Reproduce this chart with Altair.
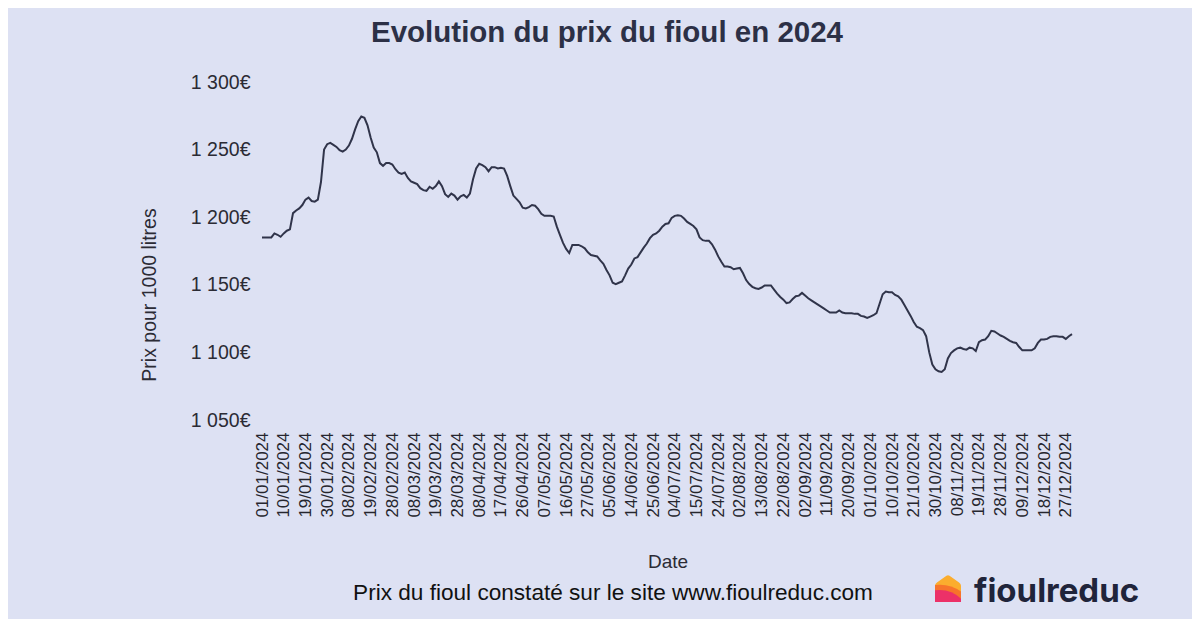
import altair as alt
import pandas as pd

# ---- data ----
PRICES_JAN = [1185, 1185, 1185, 1185, 1188, 1187, 1185.5, 1188, 1190, 1191, 1203, 1205,
              1206.5, 1209, 1213, 1214.5, 1212, 1211.5, 1213, 1226, 1250, 1254, 1255]
PRICES_FEB = [1253.5, 1252, 1249.5, 1248.5, 1250, 1253, 1258, 1265, 1271, 1274.5, 1273.5,
              1268, 1259, 1251.5, 1248, 1240, 1238, 1240, 1240, 1239, 1235.5]
PRICES_MAR = [1233, 1232, 1233, 1229, 1226.5, 1225.5, 1224.5, 1221.5, 1220, 1219.5, 1222.5,
              1221, 1223, 1226.5, 1223, 1217, 1215, 1217.5, 1216, 1213, 1215.5]
PRICES_APR = [1216.5, 1214.5, 1217.5, 1228, 1236, 1239.5, 1238.5, 1237, 1234, 1237, 1237,
              1236, 1236.5, 1236, 1230.5, 1223, 1216, 1213.5, 1211, 1207, 1206.5, 1207.5]
PRICES_MAY = [1209, 1208.5, 1206, 1202.5, 1201, 1201, 1201, 1200.5, 1193, 1187, 1181, 1176.5,
              1173.5, 1179.5, 1179.5, 1179.5, 1178.5, 1177, 1174, 1172, 1171.5, 1171, 1168]
PRICES_JUN = [1165.5, 1161, 1157, 1151.5, 1150.5, 1151.5, 1152.5, 1157, 1162, 1165, 1169.5,
              1170.5, 1174, 1177.5, 1180.5, 1184.5, 1187, 1188, 1190, 1193]
PRICES_JUL = [1195, 1195.5, 1199.5, 1201, 1201.5, 1201, 1199, 1196.5, 1195, 1193.5, 1191, 1185,
              1183, 1182.5, 1182.5, 1180, 1176, 1171, 1167, 1163.5, 1163.5, 1163, 1161.5]
PRICES_AUG = [1162, 1162.5, 1158.5, 1153.5, 1150.5, 1148.5, 1147.5, 1147, 1148, 1149.5, 1149.5,
              1149.5, 1146.5, 1143.5, 1141, 1139, 1136.5, 1137, 1139.5, 1141.5, 1142, 1144]
PRICES_SEP = [1142, 1140, 1138.5, 1137, 1135.5, 1134, 1132.5, 1131, 1129.5, 1129.5, 1129.5,
              1131, 1129.5, 1129, 1129, 1129, 1128.5, 1128.5, 1127, 1126.5, 1125.5]
PRICES_OCT = [1126.5, 1127.5, 1129, 1136, 1143, 1145, 1144.5, 1144.5, 1142.5, 1141.5, 1139,
              1135, 1131, 1127, 1122.5, 1119, 1118, 1116.5, 1112, 1100, 1091, 1087.5, 1086]
PRICES_NOV = [1085.5, 1087.5, 1095.5, 1099.5, 1101.5, 1103, 1103.5, 1102.5, 1102, 1103.5, 1103,
              1101, 1107.5, 1109, 1109.5, 1112, 1116, 1115.5, 1114, 1112.5, 1111.5]
PRICES_DEC = [1110, 1108.5, 1107.5, 1107, 1104, 1101.5, 1101.5, 1101.5, 1101.5, 1103, 1107,
              1109.5, 1109.5, 1110, 1111.5, 1112, 1112, 1111.5, 1111.5, 1110, 1112, 1113.5]

PRICES = (PRICES_JAN + PRICES_FEB + PRICES_MAR + PRICES_APR + PRICES_MAY + PRICES_JUN +
          PRICES_JUL + PRICES_AUG + PRICES_SEP + PRICES_OCT + PRICES_NOV + PRICES_DEC)

# business days of 2024 (categories of the x axis)
DATES = list(pd.bdate_range("2024-01-01", "2024-12-31").strftime("%d/%m/%Y"))

TICK_LABELS = ["01/01/2024", "10/01/2024", "19/01/2024", "30/01/2024", "08/02/2024",
               "19/02/2024", "28/02/2024", "08/03/2024", "19/03/2024", "28/03/2024",
               "08/04/2024", "17/04/2024", "26/04/2024", "07/05/2024", "16/05/2024",
               "27/05/2024", "05/06/2024", "14/06/2024", "25/06/2024", "04/07/2024",
               "15/07/2024", "24/07/2024", "02/08/2024", "13/08/2024", "22/08/2024",
               "02/09/2024", "11/09/2024", "20/09/2024", "01/10/2024", "10/10/2024",
               "21/10/2024", "30/10/2024", "08/11/2024", "19/11/2024", "28/11/2024",
               "09/12/2024", "18/12/2024", "27/12/2024"]
Y_TICKS = [1050, 1100, 1150, 1200, 1250, 1300]

TITLE = "Evolution du prix du fioul en 2024"
Y_TITLE = "Prix pour 1000 litres"
X_TITLE = "Date"
FOOTER = "Prix du fioul constaté sur le site www.fioulreduc.com"
BRAND = "fioulreduc"

assert len(PRICES) == len(DATES)

df = pd.DataFrame({"date": DATES, "prix": PRICES})

BG = "#dde1f3"
INK = "#2c3046"
FONT = "Liberation Sans"

W, H = 810, 338

line = alt.Chart(df).mark_line(color="#30344a", strokeWidth=2).encode(
    x=alt.X("date:O", sort=DATES,
            scale=alt.Scale(type="point", padding=0),
            axis=alt.Axis(values=TICK_LABELS, labelAngle=270, labelPadding=12,
                          domain=False, ticks=False, grid=False, title=None,
                          labelFont=FONT, labelFontSize=17, labelColor="#26262e")),
    y=alt.Y("prix:Q",
            scale=alt.Scale(domain=[1050, 1300], nice=False, zero=False),
            axis=alt.Axis(values=Y_TICKS, domain=False, ticks=False, grid=False,
                          title=None, labelPadding=12,
                          labelExpr="replace(format(datum.value, ','), ',', ' ') + '€'",
                          labelFont=FONT, labelFontSize=19.5, labelColor="#2b2b35")),
)

one = pd.DataFrame({"k": [0]})

def text_layer(txt, x, y, **kw):
    return alt.Chart(one).mark_text(text=txt, **kw).encode(
        x=alt.value(x), y=alt.value(y))

title = text_layer(TITLE, 345, -40, font=FONT, fontSize=29.5, fontWeight="bold",
                   color=INK, align="center", baseline="alphabetic")
ytitle = text_layer(Y_TITLE, -112, 213, font=FONT, fontSize=19.5, color="#2b2b35",
                    align="center", baseline="middle", angle=270)
xtitle = text_layer(X_TITLE, 406, 486, font=FONT, fontSize=19, color="#2b2b35",
                    align="center", baseline="alphabetic")
footer = text_layer(FOOTER, 351, 518, font=FONT, fontSize=22.6, color="#111111",
                    align="center", baseline="alphabetic")
brand = text_layer(BRAND, 712, 520, font="Inter", fontSize=33, fontWeight="bold",
                   color="#20243a", align="left", baseline="alphabetic")

HOUSE = "M -1 1 L -1 -0.25 Q -1 -0.4 -0.85 -0.5 L -0.12 -1.02 Q 0 -1.1 0.12 -1.02 L 0.85 -0.5 Q 1 -0.4 1 -0.25 L 1 1 Z"
BAND_MID = "M -1 1 L -1 -0.3 Q 0.1 -0.45 1 0.2 L 1 1 Z"
BAND_LOW = "M -1 1 L -1 0.1 Q 0.2 -0.05 1 0.75 L 1 1 Z"

def icon_layer(path, color):
    return alt.Chart(one).mark_point(shape=path, filled=True, fill=color, strokeWidth=0,
                                     opacity=1, size=676).encode(
        x=alt.value(686), y=alt.value(507))

icon = icon_layer(HOUSE, "#fbad2e") + icon_layer(BAND_MID, "#f7742b") + icon_layer(BAND_LOW, "#ec3168")

chart = alt.layer(line, title, ytitle, xtitle, footer, brand, icon).properties(
    width=W, height=H,
    autosize=alt.AutoSizeParams(type="none"),
    padding={"left": 254, "top": 74, "right": 120, "bottom": 199},
    background=BG,
).configure_view(strokeWidth=0)

chart.save("out.html", embed_options={"renderer": "svg", "actions": False})
